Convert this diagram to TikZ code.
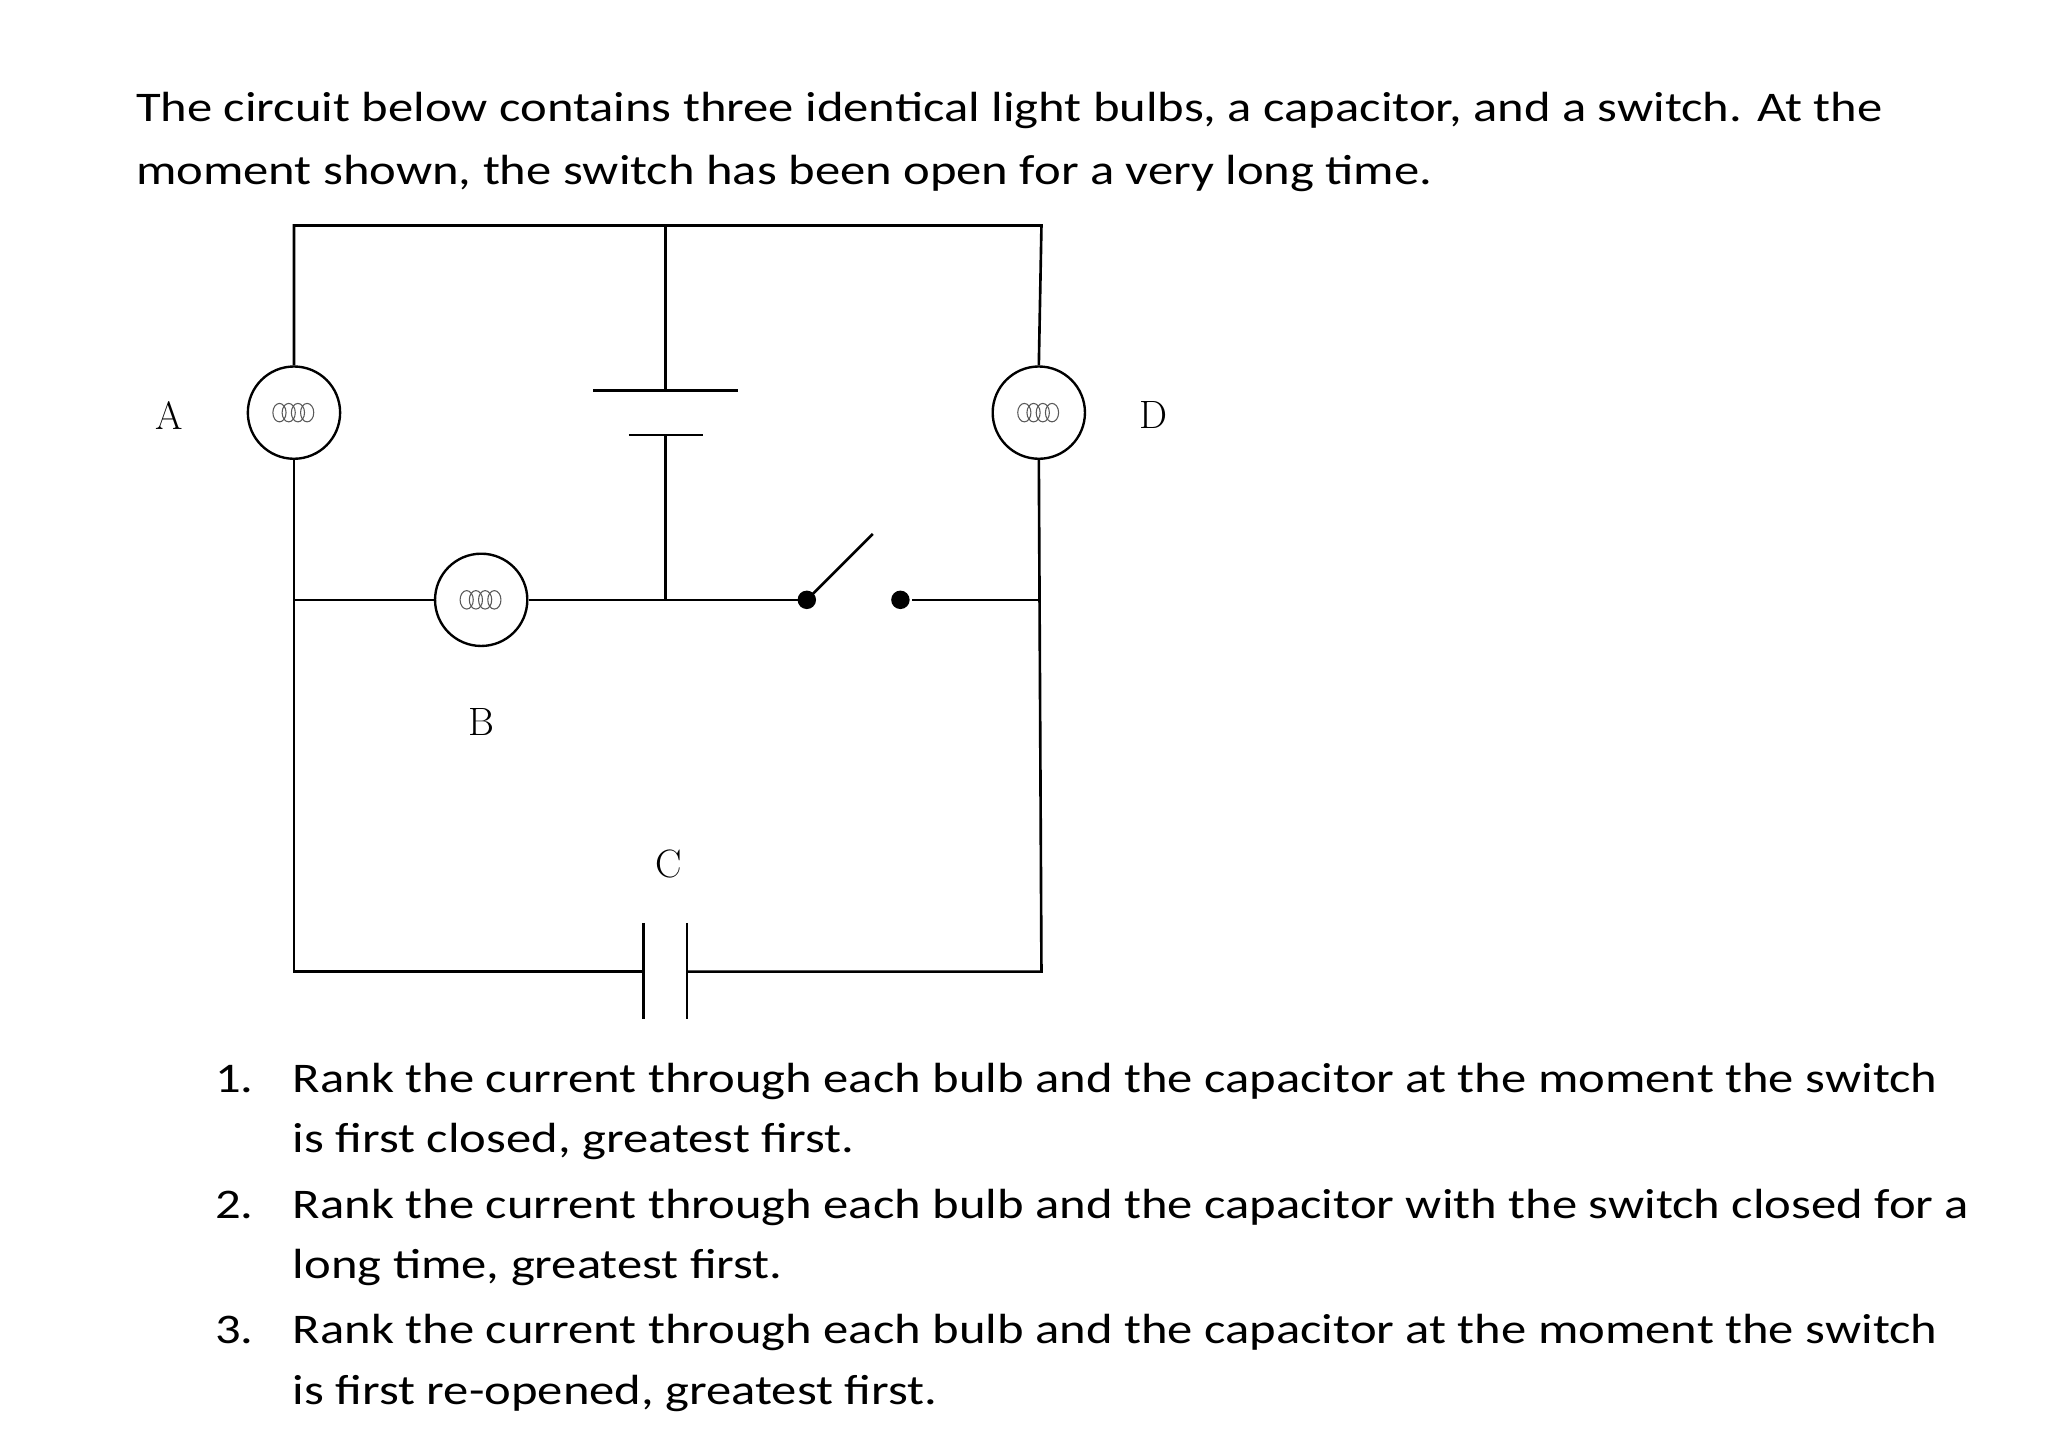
\documentclass[tikz,border=0pt]{standalone}
\usepackage{fontspec}
\usetikzlibrary{calc}
\setmainfont{Carlito}[FakeStretch=1.2]
\newfontfamily\lm{Latin Modern Roman}
\begin{document}
\begin{tikzpicture}[x=1pt,y=-1pt,
  wire/.style={line width=2pt,black},
  bulbc/.style={circle,draw,line width=1.8pt,minimum size=70pt,inner sep=0pt,fill=white},
  lbl/.style={font=\lm\fontsize{30}{30}\selectfont},
  txt/.style={anchor=base west,inner sep=0pt,font=\fontsize{32}{36}\selectfont}]
\useasboundingbox (0,0) rectangle (1552,1103);
% wires
\coordinate (tl) at (223,171); \coordinate (tr) at (790,171);
\coordinate (bl) at (223,737); \coordinate (br) at (790,737);
\coordinate (tm) at (505,171); \coordinate (ml) at (223,455);
\coordinate (mm) at (505,455); \coordinate (mr) at (790,455);
\node[bulbc] (A) at (223,313) {};
\node[bulbc] (D) at (788,313) {};
\node[bulbc] (B) at (365,455) {};
\draw[wire] (A.north) -- (tl) -- (tr) -- (D.north);
\draw[wire] (A.south) -- (bl) -- (488,737);
\draw[wire] (D.south) -- (br) -- (521,737);
\draw[wire] (488,700) -- (488,773);
\draw[wire] (521,700) -- (521,773);
\draw[wire] (tm) -- (505,296);
\draw[wire] (450,296) -- (560,296);
\draw[wire] (477,330) -- (533,330);
\draw[wire] (505,330) -- (mm);
\draw[wire] (ml) -- (B.west);
\draw[wire] (B.east) -- (mm) -- (612,455);
\coordinate (sw) at (612,455); \coordinate (sc) at (683,455);
\draw[wire] (sw) -- (662,405);
\fill (sw) circle (7); \fill (sc) circle (7);
\draw[wire] (692,455) -- (mr);
% filaments
\foreach \n in {A,B,D}{
  \foreach \dx in {-11,-4,3,10}
    \draw[line width=0.8pt,gray!70!black] ($(\n.center)+(\dx,0)$) ellipse (5 and 7);
}
% labels
\node[lbl] (la) at (128,315) {A};
\node[lbl] (ld) at (875,315) {D};
\node[lbl] (lb) at (365,548) {B};
\node[lbl] (lc) at (507,655) {C};
% text
\node[txt] (t1) at (103,92) {The circuit below contains three identical light bulbs, a capacitor, and a switch. At the};
\node[txt] (t2) at (103,140) {moment shown, the switch has been open for a very long time.};
\node[txt] (n1) at (163,829) {1.};
\node[txt] (q1a) at (222,829) {Rank the current through each bulb and the capacitor at the moment the switch};
\node[txt] (q1b) at (222,874) {is first closed, greatest first.};
\node[txt] (n2) at (163,924) {2.};
\node[txt] (q2a) at (222,924) {Rank the current through each bulb and the capacitor with the switch closed for a};
\node[txt] (q2b) at (222,970) {long time, greatest first.};
\node[txt] (n3) at (163,1019) {3.};
\node[txt] (q3a) at (222,1019) {Rank the current through each bulb and the capacitor at the moment the switch};
\node[txt] (q3b) at (222,1065) {is first re-opened, greatest first.};
\end{tikzpicture}
\end{document}
